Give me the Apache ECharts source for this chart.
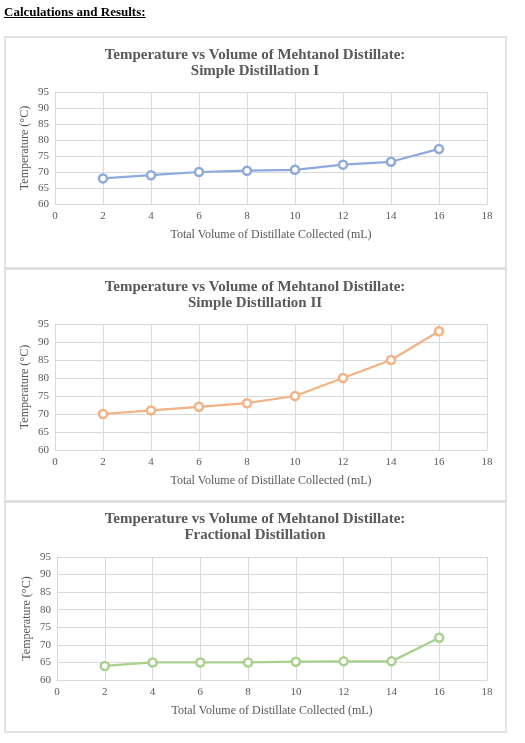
<!DOCTYPE html>
<html>
<head>
<meta charset="utf-8">
<script src="https://cdn.jsdelivr.net/npm/echarts@6/dist/echarts.min.js"></script>
<style>
  html, body { margin: 0; padding: 0; background: #fff; }
  #header {
    position: absolute; left: 4px; top: 4px;
    font-family: "Liberation Serif", "Times New Roman", serif;
    font-size: 13px; font-weight: bold; text-decoration: underline; color: #000;
  }
  #chart { position: absolute; left: 0; top: 0; width: 525px; height: 743px; }
</style>
</head>
<body>
<div id="chart"></div>
<div id="header">Calculations and Results:</div>
<script>
var volumes = [2, 4, 6, 8, 10, 12, 14, 16];
var simple1 = [68, 69, 70, 70.4, 70.7, 72.3, 73.2, 77.2];
var simple2 = [70, 71, 72, 73, 75, 80, 85, 93];
var fractional = [64, 65, 65, 65, 65.2, 65.3, 65.3, 72];
var titles = [
  'Temperature vs Volume of Mehtanol Distillate:\nSimple Distillation I',
  'Temperature vs Volume of Mehtanol Distillate:\nSimple Distillation II',
  'Temperature vs Volume of Mehtanol Distillate:\nFractional Distillation'
];
var colors = ['#8eaadc', '#f4b183', '#a9d18e'];
var seriesData = [simple1, simple2, fractional];

var font = '"Liberation Serif", "Times New Roman", serif';
var textColor = '#595959';
var gridColor = '#d9d9d9';

var grids = [
  { left: 55, top: 92, width: 432, height: 112 },
  { left: 55, top: 324, width: 432, height: 126 },
  { left: 57, top: 557, width: 430, height: 123 }
];
var titleTops = [42, 274, 506];
var boxes = [
  { x: 5, y: 37, width: 501, height: 231 },
  { x: 5, y: 269, width: 501, height: 232 },
  { x: 5, y: 502, width: 501, height: 230 }
];

function pairs(ys) {
  return volumes.map(function(v, i) { return [v, ys[i]]; });
}

var chart = echarts.init(document.getElementById('chart'), null, { renderer: 'canvas' });

var option = {
  animation: false,
  backgroundColor: '#fff',
  title: titles.map(function(t, i) {
    return {
      text: t,
      left: 250,
      top: titleTops[i],
      textAlign: 'center',
      textStyle: {
        fontFamily: font, fontSize: 15, fontWeight: 'bold',
        color: textColor, lineHeight: 16
      }
    };
  }),
  graphic: boxes.map(function(b) {
    return {
      type: 'rect', z: -1, silent: true,
      shape: b,
      style: { fill: 'none', stroke: gridColor, lineWidth: 1.5 }
    };
  }),
  grid: grids,
  xAxis: grids.map(function(g, i) {
    return {
      type: 'value', gridIndex: i, min: 0, max: 18, interval: 2,
      name: 'Total Volume of Distillate Collected (mL)',
      nameLocation: 'middle', nameGap: 25,
      nameTextStyle: { fontFamily: font, fontSize: 12, color: textColor },
      axisLabel: { fontFamily: font, fontSize: 11, color: textColor, margin: 7 },
      axisLine: { lineStyle: { color: gridColor } },
      axisTick: { show: false },
      splitLine: { lineStyle: { color: gridColor } }
    };
  }),
  yAxis: grids.map(function(g, i) {
    return {
      type: 'value', gridIndex: i, min: 60, max: 95, interval: 5,
      name: 'Temperature (°C)',
      nameLocation: 'middle', nameGap: 24, nameMoveOverlap: false,
      nameTextStyle: { fontFamily: font, fontSize: 12, color: textColor },
      axisLabel: { fontFamily: font, fontSize: 11, color: textColor, margin: 6 },
      axisLine: { show: true, lineStyle: { color: gridColor } },
      axisTick: { show: false },
      splitLine: { lineStyle: { color: gridColor } }
    };
  }),
  series: seriesData.map(function(d, i) {
    return {
      type: 'line', xAxisIndex: i, yAxisIndex: i,
      data: pairs(d),
      symbol: 'circle', symbolSize: 8,
      itemStyle: { color: '#fff', borderColor: colors[i], borderWidth: 2.5 },
      lineStyle: { color: colors[i], width: 2.25 }
    };
  })
};

chart.setOption(option);
</script>
</body>
</html>
